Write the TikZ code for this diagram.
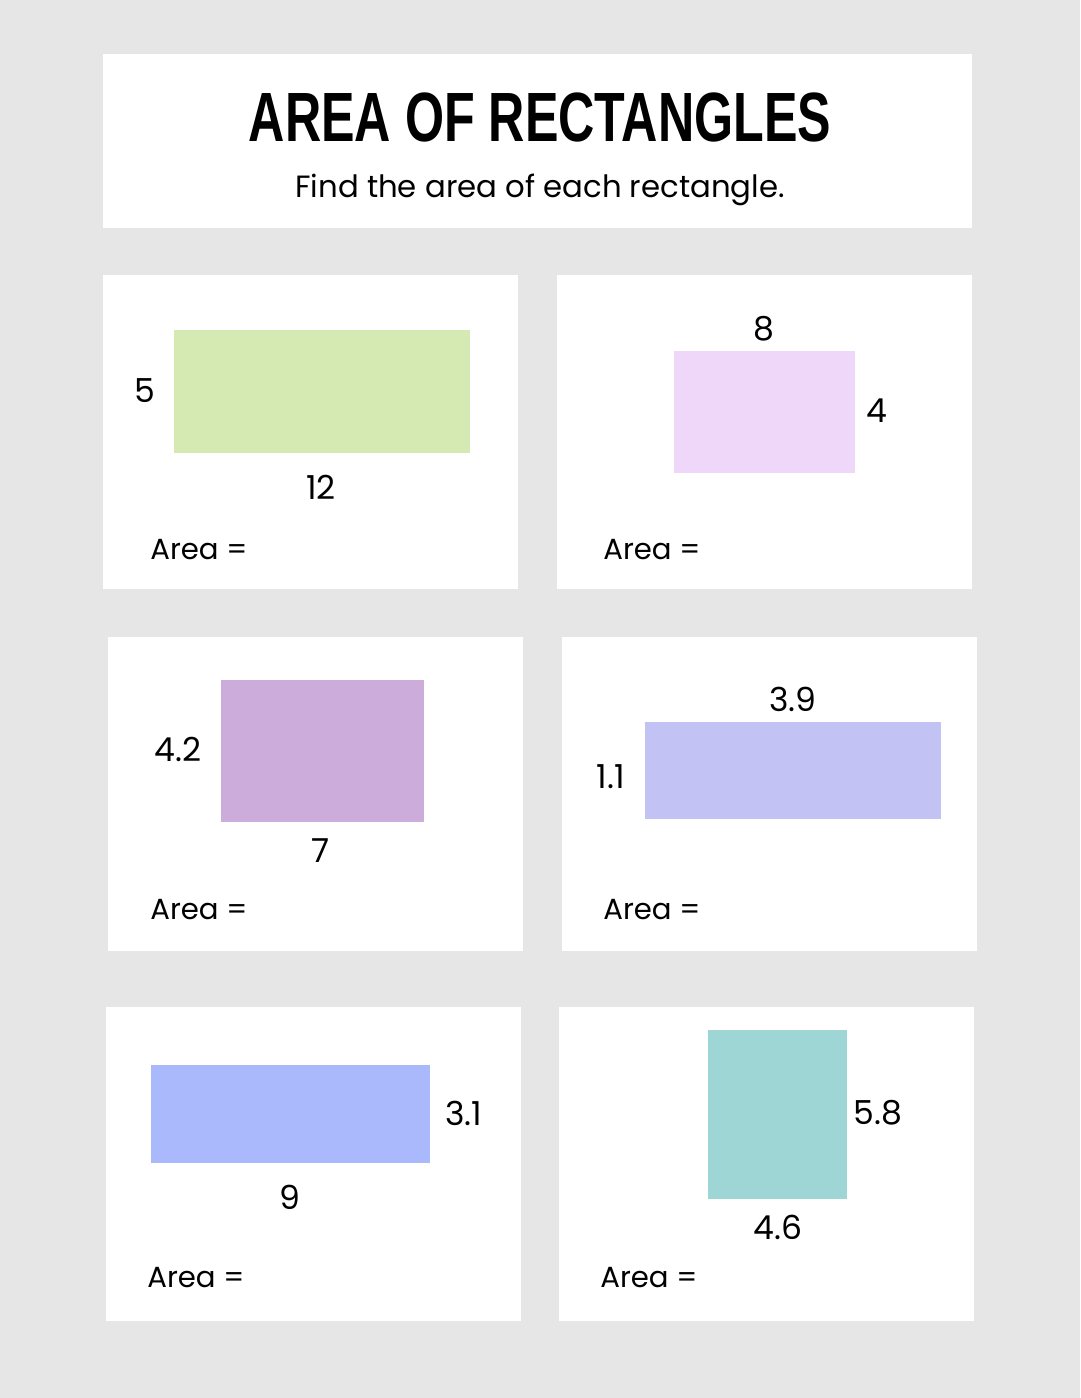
\documentclass[tikz,border=0pt]{standalone}
\usepackage{fontspec}
\setmainfont{Poppins}
\newfontfamily\titlefont[FakeStretch=0.72]{Liberation Sans}
\definecolor{pagegray}{RGB}{230,230,230}
\definecolor{rectgreen}{RGB}{213,234,178}
\definecolor{rectpink}{RGB}{239,215,250}
\definecolor{rectpurple}{RGB}{203,172,218}
\definecolor{rectlavender}{RGB}{194,194,245}
\definecolor{rectblue}{RGB}{169,185,252}
\definecolor{rectteal}{RGB}{158,214,214}

\begin{document}
\begin{tikzpicture}[x=0.02cm,y=-0.02cm,
  card/.style={fill=white},
  num/.style={inner sep=0pt,font=\fontsize{18.8}{20}\selectfont},
  arealabel/.style={anchor=west,inner sep=0pt,font=\fontsize{16.6}{18}\selectfont}]
\fill[pagegray] (0,0) rectangle (1080,1398);
\useasboundingbox (0,0) rectangle (1080,1398);

% header
\fill[card] (103,54) rectangle (972,228);
\node[inner sep=0pt] (title) at (540,117)
  {\titlefont\bfseries\fontsize{39.7}{42}\selectfont AREA OF RECTANGLES};
\node[inner sep=0pt,anchor=base] (subtitle) at (540,198)
  {\fontsize{17.5}{20}\selectfont Find the area of each rectangle.};

% white cards
\fill[card] (103,275) rectangle (518,589);
\fill[card] (557,275) rectangle (972,589);
\fill[card] (108,637) rectangle (523,951);
\fill[card] (562,637) rectangle (977,951);
\fill[card] (106,1007) rectangle (521,1321);
\fill[card] (559,1007) rectangle (974,1321);

% coloured rectangles
\fill[rectgreen]    (174,330)  rectangle (470,453);
\fill[rectpink]     (674,351)  rectangle (855,473);
\fill[rectpurple]   (221,680)  rectangle (424,822);
\fill[rectlavender] (645,722)  rectangle (941,819);
\fill[rectblue]     (151,1065) rectangle (430,1163);
\fill[rectteal]     (708,1030) rectangle (847,1199);

% side lengths
\node[num] (h1) at (145,391)  {5};
\node[num] (w1) at (321,487)  {12};
\node[num] (w2) at (764,329)  {8};
\node[num] (h2) at (877,411)  {4};
\node[num] (h3) at (178,749)  {4.2};
\node[num] (w3) at (321,851)  {7};
\node[num] (w4) at (793,699)  {3.9};
\node[num] (h4) at (611,777)  {1.1};
\node[num] (h5) at (464,1113) {3.1};
\node[num] (w5) at (290,1197) {9};
\node[num] (h6) at (878,1113) {5.8};
\node[num] (w6) at (778,1227) {4.6};

% answer lines
\node[arealabel] (a1) at (150,550)  {Area =};
\node[arealabel] (a2) at (603,550)  {Area =};
\node[arealabel] (a3) at (150,910)  {Area =};
\node[arealabel] (a4) at (603,910)  {Area =};
\node[arealabel] (a5) at (147,1278) {Area =};
\node[arealabel] (a6) at (600,1278) {Area =};
\end{tikzpicture}
\end{document}
